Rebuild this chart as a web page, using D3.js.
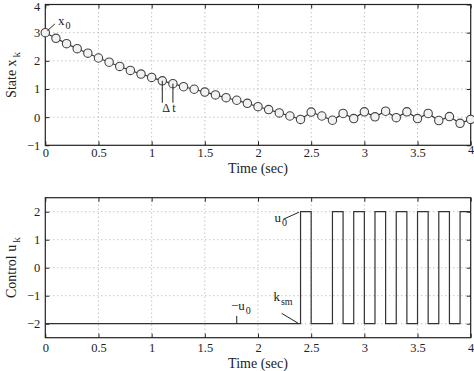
<!DOCTYPE html>
<html>
<head>
<meta charset="utf-8">
<script src="https://cdn.jsdelivr.net/npm/d3@7"></script>
<style>
  body { margin: 0; background: #fff; }
  svg text { font-family: "Liberation Serif", "DejaVu Serif", serif; fill: #222; }
</style>
</head>
<body>
<div id="chart"></div>
<script>
// sample times (sec)
var times = d3.range(0, 41).map(function(k) { return +(k * 0.1).toFixed(1); });
// state x_k
var stateX = [3.00, 2.80, 2.61, 2.43, 2.27, 2.10, 1.95, 1.80, 1.66, 1.53,
              1.41, 1.29, 1.19, 1.08, 0.99, 0.89, 0.79, 0.69, 0.60, 0.49,
              0.37, 0.27, 0.15, 0.04, -0.08, 0.18, 0.04, -0.11, 0.13, -0.05,
              0.19, 0.01, 0.21, -0.02, 0.19, -0.05, 0.13, -0.12, 0.02, -0.22, -0.08];
// control u_k (held over each step)
var controlU = [-2, -2, -2, -2, -2, -2, -2, -2, -2, -2,
                -2, -2, -2, -2, -2, -2, -2, -2, -2, -2,
                -2, -2, -2, -2, 2, -2, -2, 2, -2, 2,
                -2, 2, -2, 2, -2, 2, -2, 2, -2, 2, 2];
var xTicks = [0, 0.5, 1, 1.5, 2, 2.5, 3, 3.5, 4];
var yTicksTop = [-1, 0, 1, 2, 3, 4];
var yTicksBottom = [-2, -1, 0, 1, 2];

var W = 474, H = 371;
var svg = d3.select("#chart").append("svg").attr("width", W).attr("height", H);

var x = d3.scaleLinear().domain([0, 4]).range([45.3, 470.7]);
var yTop = d3.scaleLinear().domain([-1, 4]).range([145.3, 4.5]);
var yBot = d3.scaleLinear().domain([-2.5, 2.5]).range([337.7, 197.7]);

function fmt(d) { return d < 0 ? "\u2212" + Math.abs(d) : String(d); }

// draws grid, frame, ticks, labels for one panel
function panel(y, yTicks, ylabel, ysub, tpad) {
  var g = svg.append("g");
  var x0 = x.range()[0], x1 = x.range()[1];
  var y0 = y.range()[0], y1 = y.range()[1];

  g.selectAll(".gx").data(xTicks.slice(1, -1)).enter().append("line")
    .attr("x1", function(d) { return x(d); }).attr("x2", function(d) { return x(d); })
    .attr("y1", y0).attr("y2", y1)
    .attr("stroke", "#aaa").attr("stroke-width", 1).attr("stroke-dasharray", "1,3");
  g.selectAll(".gy").data(yTicks.filter(function(d) { return y(d) < y0 - 1 && y(d) > y1 + 1; }))
    .enter().append("line")
    .attr("x1", x0).attr("x2", x1)
    .attr("y1", function(d) { return y(d); }).attr("y2", function(d) { return y(d); })
    .attr("stroke", "#aaa").attr("stroke-width", 1).attr("stroke-dasharray", "1,3");

  // inward ticks on all sides
  var axB = d3.axisBottom(x).tickValues(xTicks).tickSizeInner(-4).tickSizeOuter(0).tickFormat(fmt).tickPadding(tpad);
  var axT = d3.axisTop(x).tickValues(xTicks).tickSizeInner(-4).tickSizeOuter(0).tickFormat("");
  var axL = d3.axisLeft(y).tickValues(yTicks).tickSizeInner(-4).tickSizeOuter(0).tickFormat(fmt).tickPadding(5);
  var axR = d3.axisRight(y).tickValues(yTicks).tickSizeInner(-4).tickSizeOuter(0).tickFormat("");
  [[axB, "translate(0," + y0 + ")"], [axT, "translate(0," + y1 + ")"],
   [axL, "translate(" + x0 + ",0)"], [axR, "translate(" + x1 + ",0)"]].forEach(function(a) {
    var ag = g.append("g").attr("transform", a[1]).call(a[0]);
    ag.select(".domain").remove();
    ag.selectAll("line").attr("stroke", "#222");
    ag.selectAll("text").attr("font-size", 12.5).attr("fill", "#222")
      .style("font-family", "'Liberation Serif', serif");
  });
  // keep the topmost y label inside the window
  g.selectAll("text").filter(function(d) { return d === yTicks[yTicks.length - 1] && y(d) < 8; })
    .attr("dy", "0.45em");

  g.append("rect").attr("x", x0).attr("y", y1).attr("width", x1 - x0).attr("height", y0 - y1)
    .attr("fill", "none").attr("stroke", "#222").attr("stroke-width", 1.2);

  g.append("text").attr("x", (x0 + x1) / 2).attr("y", y0 + tpad + 25)
    .attr("text-anchor", "middle").attr("font-size", 14).text("Time (sec)");

  var yl = g.append("text")
    .attr("transform", "translate(16," + ((y0 + y1) / 2) + ") rotate(-90)")
    .attr("text-anchor", "middle").attr("font-size", 14);
  yl.append("tspan").text(ylabel);
  yl.append("tspan").attr("font-size", 11).attr("dy", 4).attr("dx", 2).text(ysub);
}

panel(yTop, yTicksTop, "State x", "k", 3);
panel(yBot, yTicksBottom, "Control u", "k", 5);

// state trajectory
var pts = times.map(function(t, i) { return [t, stateX[i]]; });
svg.append("path").datum(pts)
  .attr("d", d3.line().x(function(d) { return x(d[0]); }).y(function(d) { return yTop(d[1]); }))
  .attr("fill", "none").attr("stroke", "#333").attr("stroke-width", 1.2);
svg.selectAll(".dot").data(pts).enter().append("circle")
  .attr("cx", function(d) { return x(d[0]); }).attr("cy", function(d) { return yTop(d[1]); })
  .attr("r", 4.2).attr("fill", "#f2f2f2").attr("stroke", "#444").attr("stroke-width", 1.1);

// control signal
var upts = times.map(function(t, i) { return [t, controlU[i]]; });
svg.append("path").datum(upts)
  .attr("d", d3.line().curve(d3.curveStepAfter).x(function(d) { return x(d[0]); }).y(function(d) { return yBot(d[1]); }))
  .attr("fill", "none").attr("stroke", "#333").attr("stroke-width", 1.2);

// annotations
function seg(y, a, b) {
  svg.append("line").attr("x1", x(a[0])).attr("y1", y(a[1])).attr("x2", x(b[0])).attr("y2", y(b[1]))
    .attr("stroke", "#222").attr("stroke-width", 1);
}
function label(px, py, main, sub, size) {
  var t = svg.append("text").attr("x", px).attr("y", py).attr("font-size", size || 13);
  t.append("tspan").text(main);
  if (sub) t.append("tspan").attr("font-size", 10).attr("dy", 4).attr("dx", 1).text(sub);
}

seg(yTop, [0.02, 3.07], [0.09, 3.31]);
label(x(0.12), yTop(3.28), "x", "0");

seg(yTop, [1.1, stateX[11]], [1.1, 0.51]);
seg(yTop, [1.2, stateX[12]], [1.2, 0.51]);
label(x(1.1), yTop(0.17), "\u0394 t", null, 12);

seg(yBot, [2.238, 1.73], [2.385, 1.98]);
label(x(2.155), yBot(1.63), "u", "0");

seg(yBot, [2.223, -1.63], [2.38, -1.99]);
label(x(2.145), yBot(-1.2), "k", "sm");

seg(yBot, [1.8, -2], [1.8, -1.72]);
label(x(1.745), yBot(-1.5), "\u2212u", "0");
</script>
</body>
</html>
